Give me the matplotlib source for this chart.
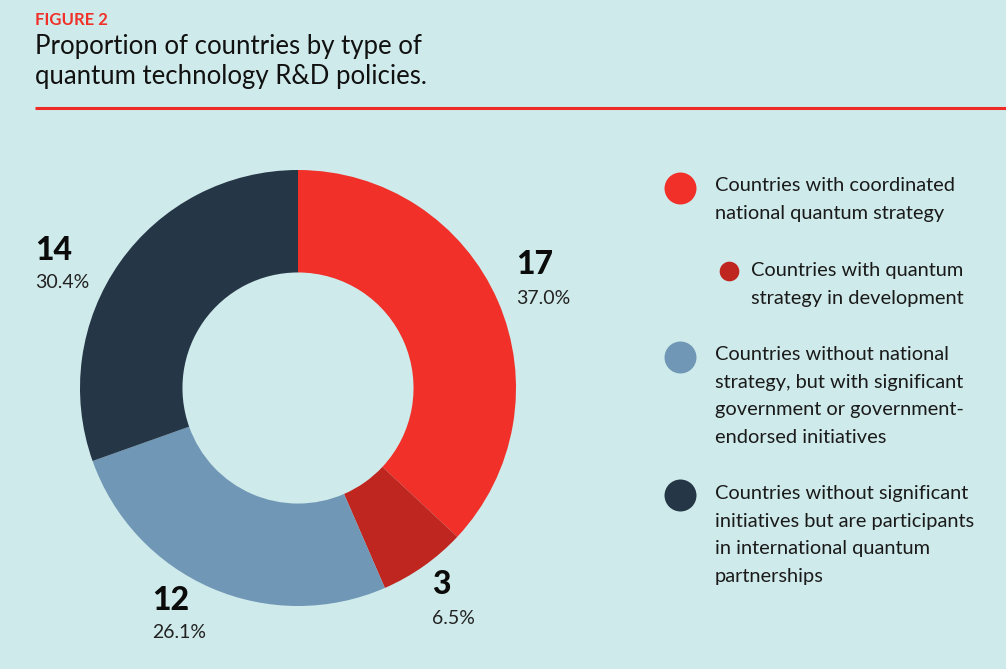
import matplotlib.pyplot as plt

# data
counts = [17, 3, 12, 14]
shares = [37.0, 6.5, 26.1, 30.4]
labels = [
    'Countries with coordinated\nnational quantum strategy',
    'Countries with quantum\nstrategy in development',
    'Countries without national\nstrategy, but with significant\ngovernment or government-\nendorsed initiatives',
    'Countries without significant\ninitiatives but are participants\nin international quantum\npartnerships',
]
colors = ['#f03029', '#bf261f', '#7097b5', '#253646']

BG = '#cfeaea'
W, H = 1006, 669

plt.rcParams['font.family'] = ['Lato', 'DejaVu Sans']

fig = plt.figure(figsize=(W / 100, H / 100), dpi=100, facecolor=BG)
ax = fig.add_axes([0, 0, 1, 1])
ax.set_xlim(0, W)
ax.set_ylim(H, 0)
ax.axis('off')

# header
ax.text(35, 20, 'FIGURE 2', color='#f03029', fontsize=12, fontweight='bold', va='center')
ax.text(35, 34, 'Proportion of countries by type of\nquantum technology R&D policies.',
        fontsize=18.5, color='#111111', va='top', linespacing=1.24)
ax.plot([35, W], [108, 108], color='#ee2b24', lw=2.2, solid_capstyle='butt')

# donut (separate axes so the pie keeps its normal orientation)
cx, cy, r = 298, 388, 218
pax = fig.add_axes([(cx - r) / W, 1 - (cy + r) / H, 2 * r / W, 2 * r / H])
pax.pie(counts, colors=colors, startangle=90, counterclock=False,
        wedgeprops=dict(width=0.47, linewidth=0))
pax.set_xlim(-1, 1)
pax.set_ylim(-1, 1)
pax.set_aspect('auto')
pax.axis('off')

# value labels
label_x = [516, 432, 152, 35]
label_y = [265, 585, 600, 250]
for lx, ly, c, s in zip(label_x, label_y, counts, shares):
    ax.text(lx, ly, str(c), fontsize=23, fontweight='black', color='#0b0b0b', va='center')
    ax.text(lx, ly + 33, f'{s:.1f}%', fontsize=14, color='#222222', va='center')

# legend
leg_items = [(680, 188, 530, 715, 177), (729, 271, 200, 751, 262),
             (680, 357, 530, 715, 346), (680, 495, 530, 715, 485)]
for (mx, my, ms, tx, ty), lab, col in zip(leg_items, labels, colors):
    ax.scatter([mx], [my], s=ms, color=col, linewidths=0)
    ax.text(tx, ty, lab, fontsize=14.4, color='#1a1a1a', va='top', linespacing=1.76)

fig.savefig('out.png', dpi=100, facecolor=BG)
